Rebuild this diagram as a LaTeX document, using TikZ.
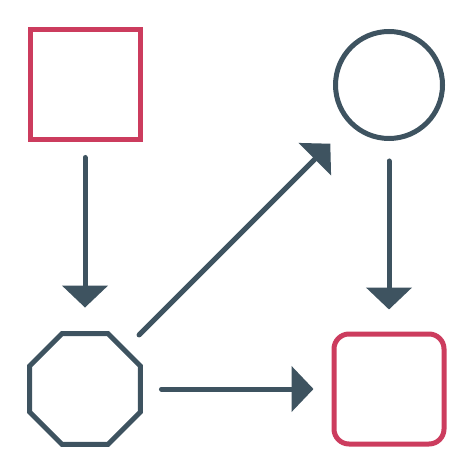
\documentclass[tikz,border=0pt]{standalone}
\usepackage{tikz}
\usetikzlibrary{arrows.meta,positioning,shapes.geometric}
\usepackage{xcolor}
\definecolor{rosered}{RGB}{204,60,94}
\definecolor{slate}{RGB}{62,83,96}

\begin{document}
\begin{tikzpicture}[node distance=6.08cm,on grid,line width=0.1cm,
   box/.style={draw=rosered,rectangle,minimum size=2.2cm,inner sep=0pt},
   blob/.style={draw=slate,circle,minimum size=2.14cm,inner sep=0pt},
   octa/.style={draw=slate,regular polygon,regular polygon sides=8,minimum size=2.4cm,inner sep=0pt},
   link/.style={color=slate,line cap=round,-{Triangle[length=4.4mm,width=9mm]}}]
   \useasboundingbox (0,0) rectangle (9.48,-9.48);
   \node[box] (sq) at (1.7,-1.7) {};
   \node[blob] (circ) [right=of sq] {};
   \node[octa] (oct) [below=of sq] {};
   \node[box,rounded corners=0.3cm] (rsq) [below=of circ] {};

   \path[link]
    (sq) edge [shorten <=0.3cm,shorten >=0.47cm] (oct)
    (circ) edge [shorten <=0.4cm,shorten >=0.44cm] (rsq)
    (oct) edge [shorten <=0.37cm,shorten >=0.36cm] (rsq)
          edge [shorten <=0.37cm,shorten >=0.54cm] (circ);
\end{tikzpicture}
\end{document}
